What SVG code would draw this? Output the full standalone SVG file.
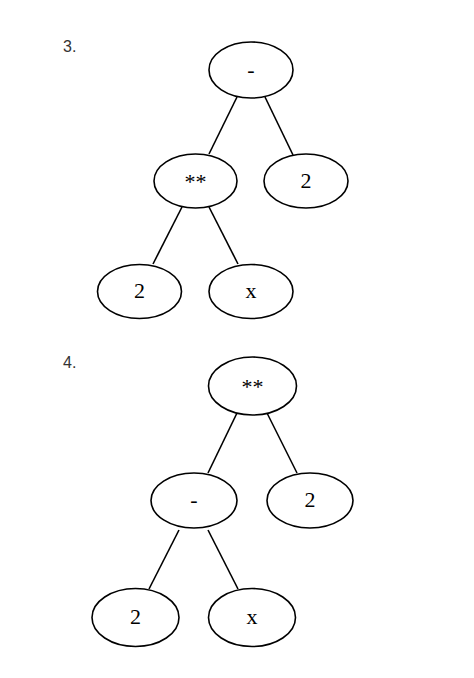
<svg xmlns="http://www.w3.org/2000/svg" width="474" height="678" viewBox="0 0 474 678">
<style>
.n ellipse{fill:#fff;stroke:#000;stroke-width:1.6}
.n text{font-family:"Liberation Serif",serif;font-size:22px;text-anchor:middle;fill:#000}
.c line{stroke:#000;stroke-width:1.6}
.lbl{font-family:"Liberation Sans",sans-serif;font-size:16px;fill:#333}
</style>
<rect width="474" height="678" fill="#fff"/>
<text class="lbl" x="63" y="52">3.</text>
<text class="lbl" x="63" y="368">4.</text>
<g class="c">
<line x1="237" y1="97" x2="209" y2="154"/>
<line x1="265" y1="97" x2="293" y2="155"/>
<line x1="182" y1="207" x2="153" y2="264"/>
<line x1="209" y1="207" x2="238" y2="264"/>
<line x1="237" y1="413" x2="208" y2="473"/>
<line x1="267" y1="413" x2="297" y2="473"/>
<line x1="179" y1="530" x2="149" y2="589"/>
<line x1="208" y1="530" x2="238" y2="589"/>
</g>
<g id="t3-root" class="n"><ellipse cx="251" cy="70" rx="42" ry="28"/><text x="251" y="77">-</text></g>
<g id="t3-pow" class="n"><ellipse cx="195.5" cy="181" rx="41.5" ry="27"/><text x="195.5" y="189">**</text></g>
<g id="t3-2r" class="n"><ellipse cx="306" cy="181" rx="42" ry="27"/><text x="306" y="188">2</text></g>
<g id="t3-2l" class="n"><ellipse cx="139.5" cy="291.5" rx="42" ry="27"/><text x="139.5" y="298">2</text></g>
<g id="t3-x" class="n"><ellipse cx="251" cy="291.5" rx="42" ry="27"/><text x="251" y="298">x</text></g>
<g id="t4-root" class="n"><ellipse cx="252.5" cy="386" rx="44" ry="29"/><text x="252.5" y="394">**</text></g>
<g id="t4-minus" class="n"><ellipse cx="194" cy="500.5" rx="43" ry="27.5"/><text x="194" y="507">-</text></g>
<g id="t4-2r" class="n"><ellipse cx="310" cy="500.5" rx="43" ry="27.5"/><text x="310" y="507">2</text></g>
<g id="t4-2l" class="n"><ellipse cx="135.5" cy="617.5" rx="43.5" ry="29"/><text x="135.5" y="624">2</text></g>
<g id="t4-x" class="n"><ellipse cx="252" cy="617.5" rx="43.5" ry="29"/><text x="252" y="624">x</text></g>
</svg>
